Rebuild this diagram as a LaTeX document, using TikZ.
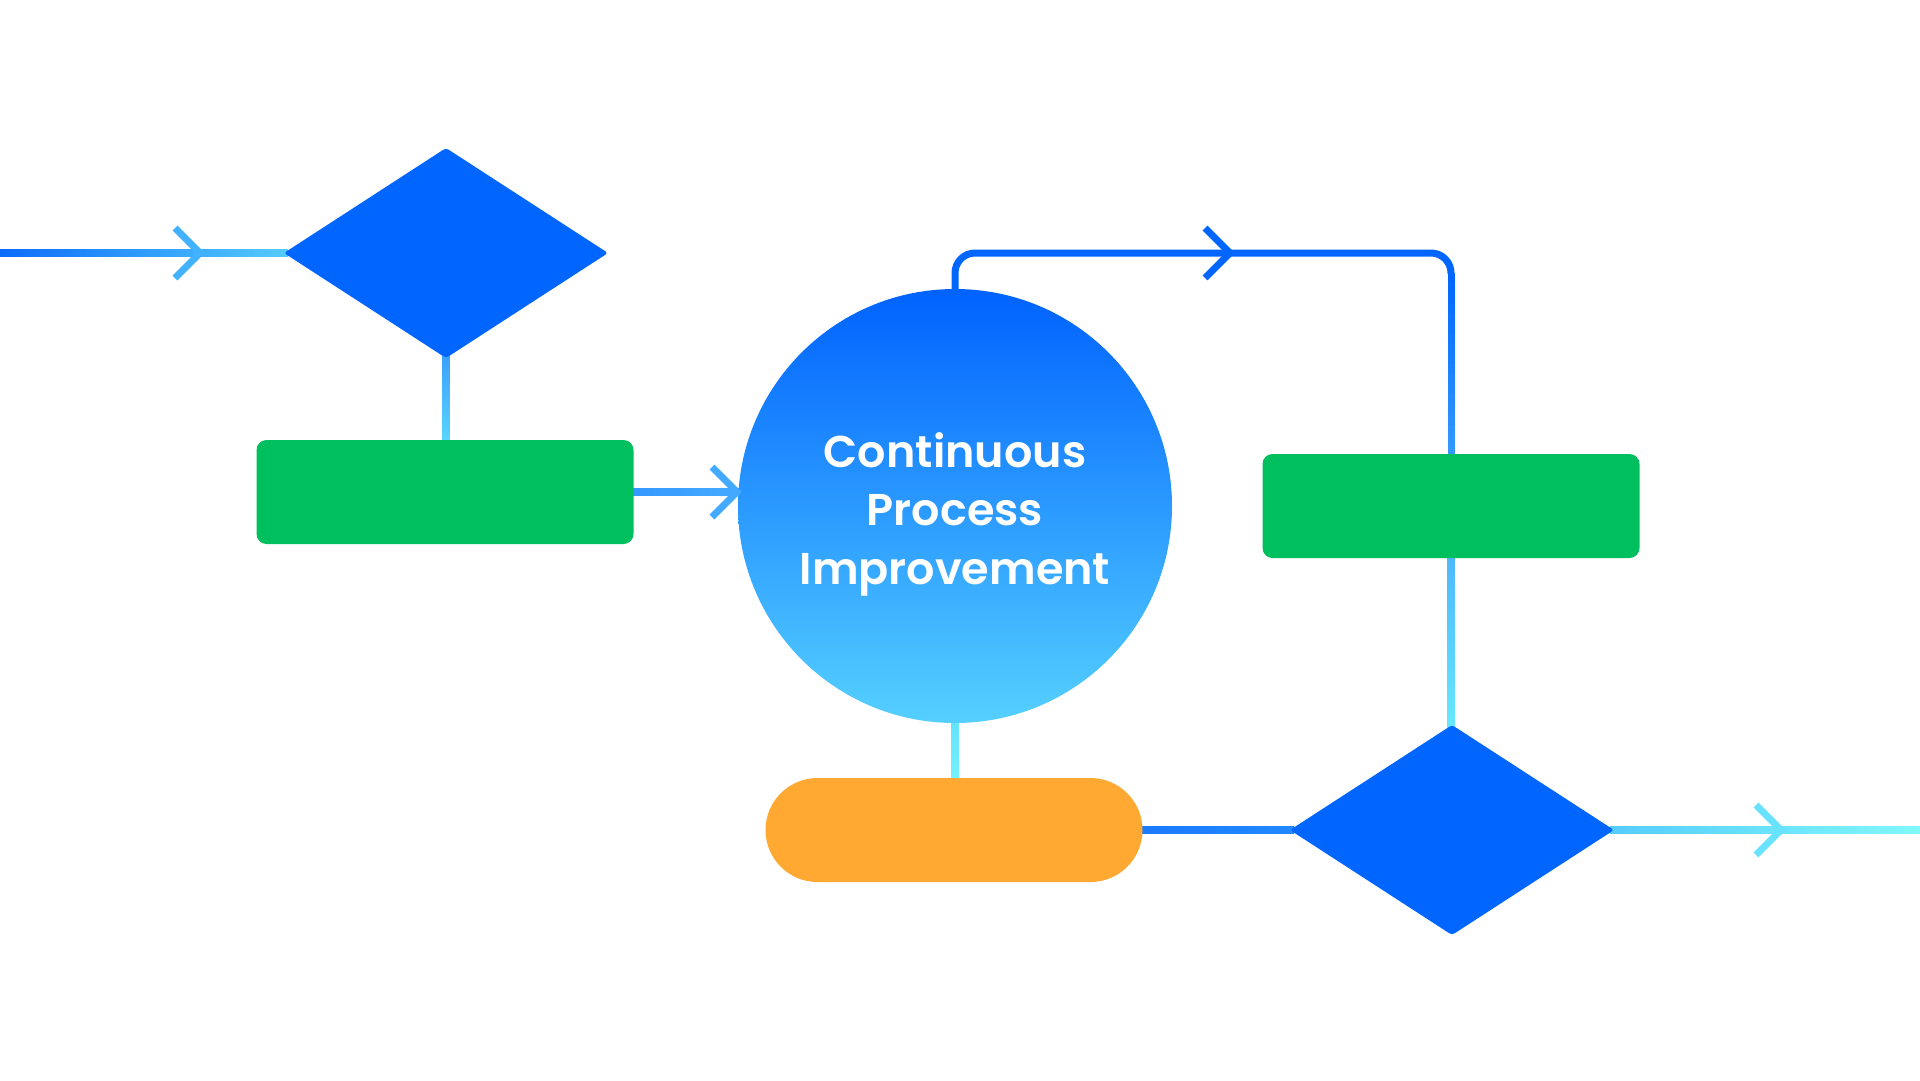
\documentclass[tikz,border=0pt]{standalone}
\usepackage{fontspec}
\newfontfamily\pop{Poppins SemiBold}
\usetikzlibrary{shapes.geometric,calc}
\pgfdeclarelayer{bg}
\pgfsetlayers{bg,main}
\definecolor{dblue}{HTML}{0066FF}
\definecolor{dgreen}{HTML}{00BF5F}
\definecolor{dorange}{HTML}{FFA933}
\definecolor{hubtop}{HTML}{0062FF}
\definecolor{hubbot}{HTML}{55D0FF}
\definecolor{lnA}{HTML}{0A6CFF}
\definecolor{lnB}{HTML}{55CCFF}
\definecolor{lnC}{HTML}{3BA0FF}
\definecolor{lnD}{HTML}{5AD4FF}
\definecolor{lnE}{HTML}{3399FF}
\definecolor{lnF}{HTML}{44AAFF}
\definecolor{lnG}{HTML}{4DB8FF}
\definecolor{lnH}{HTML}{66E8FF}
\definecolor{lnI}{HTML}{64E2FF}
\definecolor{lnJ}{HTML}{72F2FF}
\definecolor{lnK}{HTML}{1A7AFF}
\definecolor{lnL}{HTML}{2288FF}
\definecolor{lnM}{HTML}{80F8FF}
\definecolor{chA}{HTML}{42B2FF}
\definecolor{chD}{HTML}{68E2FF}
\tikzset{
  dia/.style={diamond, fill=dblue, minimum width=324pt, minimum height=210pt, inner sep=0pt, outer sep=0pt, rounded corners=3pt},
  box/.style={rectangle, fill=dgreen, minimum width=377pt, minimum height=104pt, inner sep=0pt, outer sep=0pt, rounded corners=10pt},
  pill/.style={rectangle, fill=dorange, minimum width=377pt, minimum height=104pt, inner sep=0pt, outer sep=0pt, rounded corners=52pt},
  hub/.style={circle, minimum size=434pt, inner sep=0pt, outer sep=0pt, top color=hubtop, bottom color=hubbot, text=white, align=center, font=\pop\fontsize{44.5}{58.5}\selectfont},
  chev/.style={line width=7pt, line cap=butt, line join=miter},
  wire/.style={line width=7pt, line cap=butt},
}
\begin{document}
\begin{tikzpicture}[x=1pt,y=-1pt]
\useasboundingbox (0,0) rectangle (1920,1080);

% connector anchors
\coordinate (inL) at (0,253);
\coordinate (top) at (0,253);
\coordinate (outR) at (1920,830);

% nodes
\node[dia] (d1) at (446,253) {};
\node[box] (g1) at (445,492) {};
\node[hub] (hub) at (955,506) {\rule{0pt}{51pt}Continuous\\Process\\Improvement};
\node[box] (g2) at (1451,506) {};
\node[dia] (d2) at (1452,830) {};
\node[pill] (pl) at (954,830) {};

% chevron tips
\coordinate (ch1) at (200,253);
\coordinate (ch2) at (737,492);
\coordinate (ch3) at (1230,253);
\coordinate (ch4) at (1781,830);

% connectors (gradient strokes)
\begin{pgfonlayer}{bg}
\fill[white] (0,0) rectangle (1920,1080);
\shade[left color=lnA, right color=lnB]
  ($(inL)+(0,-3.5)$) rectangle ($(d1.west)+(4,3.5)$);
\shade[top color=lnC, bottom color=lnD]
  ($(d1.south)+(-3.5,-3)$) rectangle ($(d1.south |- g1.north)+(3.5,1)$);
\shade[left color=lnE, right color=lnF]
  ($(g1.east |- ch2)+(-2,-3.5)$) rectangle ($(ch2)+(0,3.5)$);
\draw[wire, dblue, rounded corners=20pt]
  ($(hub.north)+(0,2)$) -- (hub.north |- top) -- (top -| g2.north) -- ($(g2.north |- top)+(0,21)$);
\foreach \i [evaluate=\i as \pct using \i*100/17] in {0,...,17}
  \draw[wire, color=lnE!\pct!dblue] ($(g2.north |- top)+(0,20+\i*10.1)$) -- ++(0,10.8);
\shade[top color=lnG, bottom color=lnH]
  ($(g2.south)+(-3.5,-1)$) rectangle ($(g2.south |- d2.north)+(3.5,3)$);
\shade[top color=lnI, bottom color=lnJ]
  ($(hub.south)+(-3.5,-2)$) rectangle ($(hub.south |- pl.north)+(3.5,1)$);
\shade[left color=lnK, right color=lnL]
  ($(pl.east)+(-1,-3.5)$) rectangle ($(d2.west)+(4,3.5)$);
\shade[left color=lnB, right color=lnM]
  ($(d2.east)+(-4,-3.5)$) rectangle ($(outR)+(0,3.5)$);
\end{pgfonlayer}

% chevrons
\draw[chev, chA] ($(ch1)+(-25,-25)$) -- (ch1) -- ($(ch1)+(-25,25)$);
\draw[chev, lnF] ($(ch2)+(-25,-25)$) -- (ch2) -- ($(ch2)+(-25,25)$);
\draw[chev, dblue] ($(ch3)+(-25,-25)$) -- (ch3) -- ($(ch3)+(-25,25)$);
\draw[chev, chD] ($(ch4)+(-25,-25)$) -- (ch4) -- ($(ch4)+(-25,25)$);
\end{tikzpicture}
\end{document}
